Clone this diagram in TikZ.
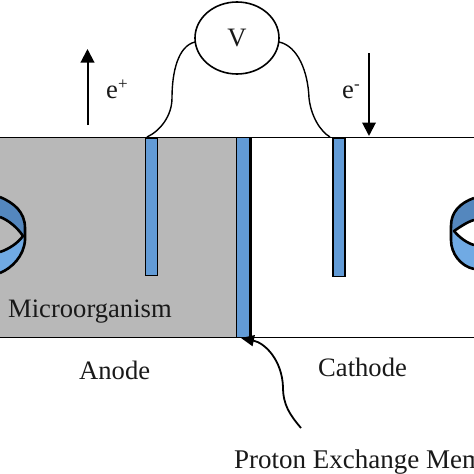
\documentclass[tikz,border=0pt]{standalone}
\usepackage{fontspec}
\setmainfont{Liberation Serif}
\usetikzlibrary{shapes.geometric,arrows.meta}
\definecolor{elblue}{RGB}{98,155,214}
\definecolor{ringdark}{RGB}{84,135,190}
\definecolor{ringlight}{RGB}{112,170,228}
\definecolor{chamber}{RGB}{184,184,184}
\newcommand{\supmark}[1]{\raisebox{9pt}{\fontsize{17}{17}\selectfont #1}}
\tikzset{
 lbl/.style={inner sep=0pt,font=\fontsize{26.6}{27}\selectfont,text=black!90},
 wire/.style={line width=1.4pt},
 bar/.style={fill=elblue,draw=black,line width=1.3pt},
 ringline/.style={line width=2.6pt,line join=round},
 arr/.style={line width=2pt,-{Triangle[length=13.5pt,width=13.5pt]}},
}
\begin{document}
\begin{tikzpicture}[x=1pt,y=-1pt]
\useasboundingbox (0,0) rectangle (474,474);
\clip (0,0) rectangle (474,474);
\fill[white] (0,0) rectangle (474,474);
\fill[chamber] (0,138) rectangle (237,337);
% left ring
\fill[ringdark] (0,197) .. controls (14,203) and (25,212) .. (25,228) .. controls (25,231) and (24,234) .. (23,236) .. controls (17,227) and (8,220) .. (0,217) -- cycle;
\fill[ringlight] (0,252) .. controls (9,249) and (18,243) .. (23,236) -- (25,232) -- (25,240) .. controls (24,256) and (12,268) .. (0,273) -- cycle;
\draw[ringline] (0,197) .. controls (14,203) and (25,212) .. (25,228) -- (25,240) .. controls (24,256) and (12,268) .. (0,273);
\draw[ringline] (0,217) .. controls (8,220) and (17,227) .. (23,236) .. controls (18,243) and (9,249) .. (0,252);
% right ring
\fill[ringdark] (474,198) .. controls (460,203) and (451,212) .. (451,226) -- (454,231) .. controls (460,227) and (467,222) .. (474,220) -- cycle;
\fill[ringlight] (451,226) -- (454,231) .. controls (460,238) and (467,243) .. (474,245) -- (474,269) .. controls (460,266) and (451,253) .. (451,240) -- cycle;
\draw[ringline] (474,198) .. controls (460,203) and (451,212) .. (451,226) -- (451,240) .. controls (451,253) and (460,266) .. (474,269);
\draw[ringline] (474,220) .. controls (467,222) and (460,227) .. (454,231) .. controls (460,238) and (467,243) .. (474,245);
% electrodes
\node[bar,minimum width=12.5pt,minimum height=137pt,inner sep=0pt,anchor=north] (anodeel) at (151.5,138) {};
\node[bar,minimum width=12pt,minimum height=138pt,inner sep=0pt,anchor=north] (cathodeel) at (339,138) {};
\fill[elblue] (237,138) rectangle (249,337);
\draw[line width=1.8pt] (236.4,138) -- (236.4,337);
\draw[line width=3.2pt] (250.4,138) -- (250.4,337);
\draw[line width=1.7pt] (0,137.5) -- (474,137.5);
\draw[line width=1.7pt] (0,337.5) -- (474,337.5);
% meter
\node[ellipse,draw,line width=1.6pt,minimum width=84pt,minimum height=72pt,inner sep=0pt,fill=white,lbl] (meter) at (237,38) {V};
\draw[wire] (195,42) .. controls (178,46) and (172,72) .. (172,98) .. controls (172,116) and (160,131) .. (147,137);
\draw[wire] (279,42) .. controls (298,46) and (308,72) .. (309,98) .. controls (311,116) and (320,131) .. (330,137);
% arrows
\coordinate (upS) at (87.5,125); \coordinate (upE) at (87.5,49);
\draw[arr] (upS) -- (upE);
\coordinate (dnS) at (369,53); \coordinate (dnE) at (369,136);
\draw[arr] (dnS) -- (dnE);
\coordinate (pemS) at (301,428); \coordinate (pemE) at (241,338);
\draw[line width=1.8pt,-{Triangle[length=13pt,width=11pt]}] (pemS) .. controls (290,415) and (283,405) .. (283,387) .. controls (282,360) and (265,343) .. (pemE);
% labels
\node[lbl,anchor=base west] (ep) at (106,98) {e\supmark{+}};
\node[lbl,anchor=base west] (em) at (342,98) {e\supmark{-}};
\node[lbl,anchor=base west] (micro) at (8,317) {Microorganism};
\node[lbl,anchor=base west] (anode) at (79,379) {Anode};
\node[lbl,anchor=base west] (cathode) at (318,376) {Cathode};
\node[lbl,anchor=base west,font=\fontsize{27}{27}\selectfont] (pem) at (234,468) {Proton Exchange Mem};
\end{tikzpicture}
\end{document}
